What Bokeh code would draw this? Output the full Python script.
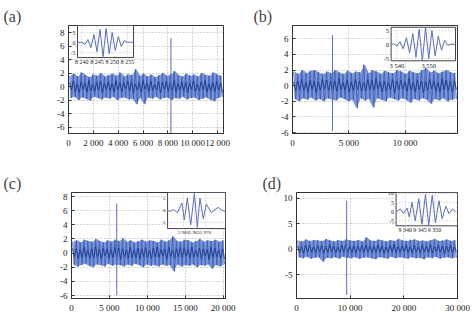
from bokeh.plotting import figure
from bokeh.layouts import column, row
from bokeh.models import Range1d, FixedTicker
from bokeh.embed import file_html
from bokeh.resources import INLINE
from bokeh.core.properties import value

# ---------------- data ----------------
panel_labels = ["(a)", "(b)", "(c)", "(d)"]

# x tick values / labels of the main plots
a_xticks = [0, 2000, 4000, 6000, 8000, 10000, 12000]
a_xlabels = ["0", "2 000", "4 000", "6 000", "8 000", "10 000", "12 000"]
b_xticks = [0, 5000, 10000]
b_xlabels = ["0", "5 000", "10 000"]
c_xticks = [0, 5000, 10000, 15000, 20000]
c_xlabels = ["0", "5 000", "10 000", "15 000", "20 000"]
d_xticks = [0, 10000, 20000, 30000]
d_xlabels = ["0", "10 000", "20 000", "30 000"]

a_yticks = [-6, -4, -2, 0, 2, 4, 6, 8]
b_yticks = [-6, -4, -2, 0, 2, 4, 6]
c_yticks = [-6, -4, -2, 0, 2, 4, 6, 8]
d_yticks = [-5, 0, 5, 10]

# noise envelope (upper / lower peaks per stretch) and core wiggle
a_hi = [1.6, 1.9, 1.5, 2.1, 1.7, 1.4, 1.8, 1.6, 2.0, 1.5, 1.7, 1.9, 1.6, 2.1, 1.5, 1.8, 1.7, 2.6, 1.6, 1.9,
        1.5, 1.8, 1.4, 1.7, 2.0, 1.6, 1.8, 2.3, 1.7, 1.5, 1.9, 1.6, 1.8, 1.5, 2.0, 1.7, 1.6, 2.1, 1.8, 1.6]
a_lo = [-1.7, -1.5, -2.0, -1.6, -1.8, -2.1, -1.5, -1.7, -1.9, -1.6, -1.8, -1.5, -2.0, -1.7, -1.6, -1.9, -1.8, -2.6, -1.7, -2.6,
        -1.6, -1.8, -1.5, -1.9, -1.7, -1.6, -2.0, -1.7, -1.8, -1.5, -1.9, -1.7, -1.6, -2.0, -1.8, -1.6, -1.9, -2.2, -1.7, -1.5]
a_core = [0.6, -0.5, 0.8, -0.7, 0.4, -0.9, 0.7, -0.4, 0.5, -0.8, 0.9, -0.6, 0.3, -0.7, 0.6, -0.5, 0.8, -0.9, 0.5, -0.4,
          0.7, -0.6, 0.4, -0.8, 0.9, -0.5, 0.6, -0.7, 0.5, -0.3, 0.8, -0.6, 0.7, -0.9, 0.4, -0.5, 0.6, -0.8, 0.9, -0.4,
          0.5, -0.7, 0.8, -0.6, 0.3, -0.5, 0.7, -0.9, 0.6, -0.4, 0.8, -0.7, 0.5, -0.6, 0.9, -0.8, 0.4, -0.5, 0.7, -0.6,
          0.6, -0.9, 0.5, -0.4, 0.8, -0.7, 0.3, -0.6, 0.7, -0.5, 0.9, -0.8, 0.4, -0.6, 0.6, -0.7, 0.8, -0.5, 0.5, -0.9]

b_hi = [1.8, 1.5, 2.0, 1.6, 1.9, 2.0, 1.7, 1.5, 1.8, 1.6, 2.0, 1.7, 1.5, 1.9, 1.6, 1.8, 1.7, 2.7, 1.6, 2.0,
        1.8, 1.5, 1.9, 1.7, 1.6, 2.0, 1.8, 1.5, 1.9, 1.7, 1.6, 2.0, 2.3, 1.7, 1.9, 1.6, 1.8, 2.0, 1.7, 1.6]
b_lo = [-1.7, -2.0, -1.6, -1.8, -1.5, -1.9, -1.7, -2.0, -1.6, -1.8, -1.9, -1.5, -1.7, -2.0, -1.8, -2.9, -1.6, -1.9, -1.7, -2.8,
        -1.6, -1.8, -2.0, -1.5, -1.7, -1.9, -1.6, -1.8, -2.2, -1.7, -1.9, -1.6, -1.8, -2.3, -1.7, -1.9, -1.6, -2.0, -1.8, -1.7]
b_core = [0.5, -0.7, 0.6, -0.5, 0.8, -0.6, 0.4, -0.8, 0.7, -0.5, 0.6, -0.9, 0.5, -0.6, 0.8, -0.4, 0.7, -0.6, 0.5, -0.8,
          0.6, -0.7, 0.9, -0.5, 0.4, -0.6, 0.7, -0.8, 0.5, -0.6, 0.8, -0.5, 0.6, -0.7, 0.4, -0.6, 0.8, -0.5, 0.7, -0.6,
          0.9, -0.4, 0.5, -0.8, 0.6, -0.7, 0.4, -0.5, 0.8, -0.9, 0.6, -0.5, 0.7, -0.4, 0.5, -0.7, 0.9, -0.6, 0.4, -0.8,
          0.7, -0.5, 0.6, -0.9, 0.5, -0.6, 0.8, -0.4, 0.6, -0.7, 0.4, -0.8, 0.9, -0.5, 0.7, -0.6, 0.5, -0.8, 0.6, -0.5]

c_hi = [1.6, 1.8, 1.5, 1.9, 1.7, 1.6, 2.0, 1.7, 1.5, 1.8, 1.6, 1.9, 1.7, 2.1, 1.6, 1.8, 1.5, 1.7, 1.9, 1.6,
        1.8, 1.7, 1.5, 1.9, 1.6, 1.8, 2.4, 1.7, 1.6, 1.9, 1.8, 1.5, 1.7, 2.0, 1.6, 1.8, 1.7, 1.9, 1.6, 1.8]
c_lo = [-1.6, -1.9, -1.7, -1.5, -1.8, -2.0, -1.6, -1.7, -1.9, -1.5, -1.8, -1.6, -1.7, -1.9, -1.6, -1.8, -1.5, -1.7, -2.0, -1.6,
        -1.8, -1.7, -1.9, -1.6, -1.8, -1.7, -2.6, -1.6, -1.9, -1.7, -1.8, -1.6, -2.0, -1.7, -1.8, -1.6, -2.2, -1.7, -1.9, -1.6]
c_core = [0.7, -0.5, 0.6, -0.8, 0.5, -0.6, 0.8, -0.5, 0.4, -0.7, 0.6, -0.6, 0.9, -0.5, 0.5, -0.8, 0.7, -0.4, 0.6, -0.7,
          0.5, -0.6, 0.8, -0.5, 0.7, -0.9, 0.6, -0.5, 0.4, -0.7, 0.8, -0.6, 0.5, -0.6, 0.7, -0.8, 0.6, -0.5, 0.8, -0.6,
          0.4, -0.8, 0.7, -0.5, 0.9, -0.6, 0.5, -0.4, 0.6, -0.9, 0.8, -0.5, 0.4, -0.7, 0.6, -0.5, 0.8, -0.6, 0.7, -0.4,
          0.5, -0.7, 0.9, -0.6, 0.4, -0.5, 0.7, -0.8, 0.6, -0.4, 0.5, -0.9, 0.8, -0.6, 0.7, -0.5, 0.4, -0.7, 0.6, -0.8]

d_hi = [1.7, 1.5, 1.9, 1.6, 1.8, 1.7, 1.6, 2.0, 1.7, 1.5, 1.8, 1.6, 1.9, 1.7, 1.6, 1.8, 1.5, 2.3, 1.7, 1.6,
        1.9, 1.7, 1.5, 1.8, 1.6, 2.0, 1.7, 1.6, 1.8, 1.9, 1.6, 1.7, 1.5, 1.8, 2.0, 1.6, 1.7, 1.9, 1.6, 1.8]
d_lo = [-1.6, -1.8, -1.5, -1.9, -1.7, -1.6, -2.5, -1.7, -1.8, -1.6, -1.9, -1.5, -1.7, -1.8, -1.6, -1.9, -1.7, -1.6, -1.8, -2.0,
        -1.6, -1.7, -1.9, -1.5, -1.8, -1.6, -1.7, -1.9, -1.6, -1.8, -1.7, -2.0, -1.6, -1.8, -1.5, -1.9, -1.7, -1.6, -1.8, -1.7]
d_core = [0.6, -0.6, 0.5, -0.8, 0.7, -0.5, 0.8, -0.6, 0.4, -0.7, 0.6, -0.5, 0.7, -0.8, 0.5, -0.6, 0.9, -0.5, 0.6, -0.7,
          0.4, -0.6, 0.7, -0.5, 0.8, -0.6, 0.5, -0.7, 0.6, -0.8, 0.5, -0.4, 0.7, -0.6, 0.8, -0.5, 0.6, -0.7, 0.5, -0.6,
          0.8, -0.5, 0.6, -0.9, 0.4, -0.6, 0.7, -0.5, 0.9, -0.7, 0.5, -0.6, 0.6, -0.4, 0.8, -0.7, 0.5, -0.8, 0.7, -0.5,
          0.4, -0.7, 0.8, -0.5, 0.6, -0.6, 0.9, -0.8, 0.5, -0.4, 0.7, -0.6, 0.6, -0.9, 0.5, -0.5, 0.8, -0.7, 0.4, -0.6]

# impulse (spike) in the record
spike_x = [8247, 3548, 5965, 9345]
spike_top = [7.2, 6.45, 7.0, 9.5]
spike_bot = [-6.9, -5.8, -6.0, -9.0]

# zoomed waveform around the impulse (inset)
a_in_x = [8238.8, 8240, 8241, 8242, 8243, 8244, 8245, 8246, 8247, 8248, 8249, 8250, 8251, 8252, 8253, 8254, 8255, 8256, 8257]
a_in_y = [0.0, 0.2, -1.0, 1.5, -2.5, 4.0, -4.5, 6.5, -7.0, 7.0, -5.5, 5.0, -4.0, 3.0, -2.0, 1.0, 0.0, 0.3, 0.0]
a_in_xt = [8240, 8245, 8250, 8255]
a_in_xl = ["8 240", "8 245", "8 250", "8 255"]
a_in_yt = [-5, 0, 5]

b_in_x = [3538.2, 3539, 3540, 3541, 3542, 3543, 3544, 3545, 3546, 3547, 3548, 3549, 3550, 3551, 3552, 3553, 3554, 3555, 3556, 3557, 3558.4]
b_in_y = [0.0, 0.3, -0.5, 1.0, -1.5, 2.5, -3.0, 4.0, -4.5, 5.5, -5.8, 6.0, -5.0, 5.0, -4.0, 3.0, -2.0, 1.5, -0.3, 0.2, 0.0]
b_in_xt = [3540, 3550]
b_in_xl = ["3 540", "3 550"]
b_in_yt = [-5, 0, 5]

c_in_x = [5952.8, 5954.0, 5955.5, 5957.3, 5959.3, 5960.4, 5961.8, 5963.3, 5965.0, 5966.3, 5967.5, 5969.0, 5970.4, 5972.7, 5975.7, 5977.6, 5979.1]
c_in_y = [0.0, -0.5, 0.3, -1.0, 3.0, -4.0, 5.0, -6.0, 7.0, -7.0, 5.0, -3.5, 2.5, -1.0, 1.2, 0.0, -0.5]
c_in_xt = [5960, 5965, 5970]
c_in_xl = ["5 960", "5 965", "5 970"]
c_in_yt = [-5, 0, 5]

d_in_x = [9337.1, 9338.3, 9339.4, 9340.6, 9341.4, 9342.3, 9343.4, 9344.6, 9345.7, 9346.9, 9348.0, 9349.2, 9350.3, 9351.5, 9352.6, 9353.8, 9354.9, 9356.1, 9357.2]
d_in_y = [0.0, 1.5, -1.0, 2.0, -3.0, 5.0, -5.0, 7.0, -7.0, 9.5, -7.5, 9.0, -6.0, 6.0, -4.0, 3.0, -1.0, 1.5, 0.0]
d_in_xt = [9340, 9345, 9350]
d_in_xl = ["9 340", "9 345", "9 350"]
d_in_yt = [-5, 0, 5, 10]

# ---------------- styling / layout ----------------
SERIF = "Liberation Serif"
BAND = "#5a7bcc"
ZIG = "#3358b3"
CORE = "#1b3787"
SPIKE = "#5b70b0"
WAVE = "#5a6fb8"


def panel(label, xend, yr, xt, xl, yt, hi, lo, core, k, borders, title_off,
          in_x, in_y, in_xr, in_yr, in_xt, in_xl, in_yt, tx, ty, in_fs):
    bl, br, bt, bb = borders
    p = figure(width=237, height=160, output_backend="svg", toolbar_location=None,
               x_range=Range1d(0, xend), y_range=Range1d(*yr),
               min_border_left=bl, min_border_right=br, min_border_top=bt, min_border_bottom=bb,
               background_fill_color="white", border_fill_color="white")
    p.outline_line_color = "#333333"
    p.outline_line_width = 1
    for ax, ticks in ((p.xaxis, xt), (p.yaxis, yt)):
        ax.ticker = FixedTicker(ticks=ticks)
        ax.major_label_text_font = SERIF
        ax.major_label_text_font_size = "9px"
        ax.major_label_text_color = "#222222"
        ax.major_tick_in = 3
        ax.major_tick_out = 0
        ax.minor_tick_line_color = None
        ax.axis_line_color = "#333333"
        ax.major_tick_line_color = "#333333"
        ax.major_label_standoff = 4
    p.xaxis.major_label_overrides = {t: s for t, s in zip(xt, xl)}
    p.yaxis.major_label_overrides = {t: str(t) for t in yt}
    p.grid.grid_line_color = "#9a9a9a"
    p.grid.grid_line_dash = "1 2"
    p.grid.grid_line_width = 0.8

    p.title.text = label
    p.title.text_font = SERIF
    p.title.text_font_size = "16px"
    p.title.text_font_style = "normal"
    p.title.align = "left"
    p.title.offset = title_off
    p.title.standoff = 2

    n = len(hi)
    w = xend / n
    xs_band = [(i + 0.5) * w for i in range(n)]
    p.varea(x=xs_band, y1=lo, y2=hi, fill_color=BAND, fill_alpha=0.8)
    zx, zy = [], []
    for i in range(n):
        zx += [(i + 0.25) * w, (i + 0.75) * w]
        zy += [hi[i], lo[i]]
    p.line(zx, zy, line_color=ZIG, line_width=0.7)
    wc = xend / len(core)
    cx = [(i + 0.5) * wc for i in range(len(core))]
    p.line(cx, core, line_color=CORE, line_width=0.8)
    p.segment(x0=[spike_x[k]], y0=[spike_bot[k]], x1=[spike_x[k]], y1=[spike_top[k]],
              line_color=SPIKE, line_width=1)

    # inset
    sub = p.subplot(x_source=Range1d(*in_xr), y_source=Range1d(*in_yr),
                    x_target=Range1d(*tx), y_target=Range1d(*ty))
    sub.quad(left=[in_xr[0]], right=[in_xr[1]], bottom=[in_yr[0]], top=[in_yr[1]],
             fill_color="white", line_color="#444444", line_width=1)
    sub.segment(x0=in_xt, y0=[in_yr[0]] * len(in_xt), x1=in_xt, y1=[in_yr[1]] * len(in_xt),
                line_color="#aaaaaa", line_dash="1 2", line_width=0.7)
    sub.segment(x0=[in_xr[0]] * len(in_yt), y0=in_yt, x1=[in_xr[1]] * len(in_yt), y1=in_yt,
                line_color="#aaaaaa", line_dash="1 2", line_width=0.7)
    sub.line(in_x, in_y, line_color=WAVE, line_width=1)
    sub.text(x=in_xt, y=[in_yr[0]] * len(in_xt), text=in_xl, text_align="center",
             text_baseline="top", y_offset=1, text_font=value(SERIF), text_font_size=value(in_fs),
             text_color="#222222")
    sub.text(x=[in_xr[0]] * len(in_yt), y=in_yt, text=[str(t) for t in in_yt], text_align="right",
             text_baseline="middle", x_offset=-2, text_font=value(SERIF), text_font_size=value(in_fs),
             text_color="#222222")
    return p


pa = panel(panel_labels[0], 12480, (-6.95, 9.05), a_xticks, a_xlabels, a_yticks, a_hi, a_lo, a_core, 0,
           (68, 14, 25, 27), -65,
           a_in_x, a_in_y, (8238.6, 8257.0), (-7.5, 8.5), a_in_xt, a_in_xl, a_in_yt,
           (725, 5235), (4.3, 9.05), "6px")
pb = panel(panel_labels[1], 14640, (-6.12, 7.7), b_xticks, b_xlabels, b_yticks, b_hi, b_lo, b_core, 1,
           (55, 17, 25, 22), -39,
           b_in_x, b_in_y, (3538.2, 3558.4), (-5.8, 6.2), b_in_xt, b_in_xl, b_in_yt,
           (8750, 14464), (3.18, 7.47), "6.5px")
pc = panel(panel_labels[2], 20300, (-6.42, 8.57), c_xticks, c_xlabels, c_yticks, c_hi, c_lo, c_core, 2,
           (71, 12, 32, 22), -68,
           c_in_x, c_in_y, (5952.8, 5979.1), (-7.5, 7.3), c_in_xt, c_in_xl, c_in_yt,
           (12663, 20300), (3.47, 8.57), "5px")
pd = panel(panel_labels[3], 30000, (-9.7, 11.1), d_xticks, d_xlabels, d_yticks, d_hi, d_lo, d_core, 3,
           (59, 17, 31, 18), -34,
           d_in_x, d_in_y, (9336.9, 9357.8), (-7.8, 10.5), d_in_xt, d_in_xl, d_in_yt,
           (18560, 30000), (4.56, 11.1), "6px")

layout = column(row(pa, pb), row(pc, pd))
open("out.html", "w").write(file_html(layout, INLINE))
